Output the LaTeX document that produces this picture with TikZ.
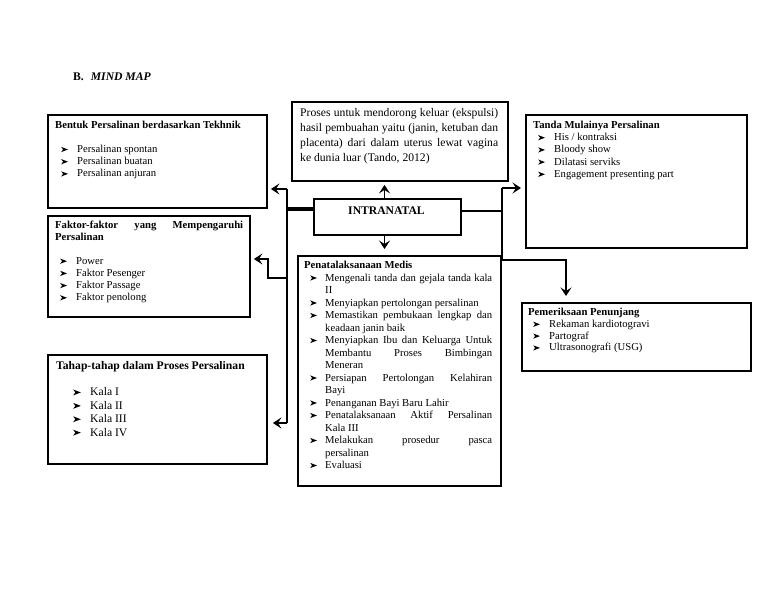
\documentclass[tikz,border=0pt]{standalone}
\usepackage{fontspec}
\setmainfont{Liberation Serif}
\usetikzlibrary{arrows.meta}
\hyphenpenalty=10000
\exhyphenpenalty=10000
\newdimen\bulind
\newdimen\txtind
\newcommand\fsmall{\fontsize{10.67pt}{12.2pt}\selectfont}
\newcommand\fbig{\fontsize{11.64pt}{13.4pt}\selectfont}
\def\bsc{1}
\newcommand\bul{\tikz[x=\bsc pt,y=\bsc pt,baseline=0pt]\fill (0,0.4) -- (6.8,3) -- (0,5.6) -- (1.9,3) -- cycle;}
\newcommand\itm[1]{\par\noindent\hangindent=\txtind\hangafter=1\hbox to\txtind{\hskip\bulind\bul\hfil}#1}
\begin{document}
\begin{tikzpicture}[x=1pt,y=-1pt,
  box/.style={draw, line width=1.9pt, inner sep=0pt, anchor=north west},
  txt/.style={anchor=base west, inner sep=0pt, align=justify, font=\fsmall, execute at begin node={\tolerance=10000}},
  conn/.style={line width=1.7pt},
  arr/.style={line width=1.7pt, -{Stealth[length=8.5pt,width=11pt,inset=3.5pt]}},
  thickl/.style={line width=3.4pt}]
\useasboundingbox (0,0) rectangle (768,594);
\fill[white] (0,0) rectangle (768,594);

% title
\node[anchor=base west, inner sep=0pt, font=\fbig\bfseries] (ttl) at (73,81) {B.\hspace{7pt}\textit{MIND MAP}};

% boxes
\node[box, minimum width=219pt, minimum height=93pt] (bentuk) at (47,114) {};
\node[box, minimum width=202pt, minimum height=101pt] (faktor) at (47,215) {};
\node[box, minimum width=219pt, minimum height=109pt] (tahap) at (47,354) {};
\node[box, minimum width=216pt, minimum height=79pt] (proses) at (291,101) {};
\node[box, minimum width=147pt, minimum height=36pt] (intra) at (313,198) {};
\node[box, minimum width=203pt, minimum height=230pt] (pena) at (297,255) {};
\node[box, minimum width=221pt, minimum height=133pt] (tanda) at (525,114) {};
\node[box, minimum width=229pt, minimum height=68pt] (pem) at (521,302) {};

% texts
\node[txt, text width=205pt] (bentukt) at (55,128.5) {{\bfseries Bentuk Persalinan berdasarkan Tekhnik\par}\vspace{11.8pt}\bulind=6pt\txtind=22pt
\itm{Persalinan spontan}\itm{Persalinan buatan}\itm{Persalinan anjuran}};

\node[txt, text width=188pt] (faktort) at (55,228) {{\bfseries Faktor-faktor yang Mempengaruhi\linebreak Persalinan\par}\vspace{11.8pt}\bulind=5pt\txtind=21pt
\itm{Power}\itm{Faktor Pesenger}\itm{Faktor Passage}\itm{Faktor penolong}};

\node[txt, text width=205pt, font=\fbig] (tahapt) at (56,369) {{\bfseries Tahap-tahap dalam Proses Persalinan\par}\vspace{13.4pt}\bulind=17pt\txtind=34pt\def\bsc{1.12}%
\itm{Kala I}\itm{Kala II}\itm{Kala III}\itm{Kala IV}};

\node[txt, text width=198pt, font=\fontsize{11.64pt}{15pt}\selectfont] (prosest) at (300,116) {Proses untuk mendorong keluar (ekspulsi)\linebreak hasil pembuahan yaitu (janin, ketuban dan\linebreak placenta) dari dalam uterus lewat vagina\linebreak ke dunia luar (Tando, 2012)};

\node[anchor=base, inner sep=0pt, font=\fbig\bfseries] (intrat) at (386.5,214) {INTRANATAL};

\node[txt, text width=188pt, font=\fontsize{10.67pt}{12.5pt}\selectfont] (penat) at (304,268.5) {{\bfseries Penatalaksanaan Medis\par}\bulind=6pt\txtind=21pt
\itm{Mengenali tanda dan gejala tanda kala\linebreak II}
\itm{Menyiapkan pertolongan persalinan}
\itm{Memastikan pembukaan lengkap dan\linebreak keadaan janin baik}
\itm{Menyiapkan Ibu dan Keluarga Untuk\linebreak Membantu Proses Bimbingan\linebreak Meneran}
\itm{Persiapan Pertolongan Kelahiran\linebreak Bayi}
\itm{Penanganan Bayi Baru Lahir}
\itm{Penatalaksanaan Aktif Persalinan\linebreak Kala III}
\itm{Melakukan prosedur pasca\linebreak persalinan}
\itm{Evaluasi}};

\node[txt, text width=205pt] (tandat) at (533,128.5) {{\bfseries Tanda Mulainya Persalinan\par}\bulind=5pt\txtind=21pt
\itm{His / kontraksi}\itm{Bloody show}\itm{Dilatasi serviks}\itm{Engagement presenting part}};

\node[txt, text width=205pt, font=\fontsize{10.67pt}{11.8pt}\selectfont] (pemt) at (528,315.5) {{\bfseries Pemeriksaan Penunjang\par}\bulind=5pt\txtind=21pt
\itm{Rekaman kardiotogravi}\itm{Partograf}\itm{Ultrasonografi (USG)}};

% left connectors
\coordinate (lj) at (287,209);
\coordinate (ltop) at (287,189);
\coordinate (lbot) at (287,423);
\coordinate (lf) at (287,278);
\coordinate (fk) at (268,259);
\draw[thickl] (intra.west |- lj) -- (lj);
\draw[conn] (ltop) -- (lbot);
\draw[arr, shorten >=3pt] (ltop) -- (ltop -| bentuk.east);
\draw[arr, shorten >=3pt] (lf) -| (fk) -- (fk -| faktor.east);
\draw[arr, shorten >=5pt] (lbot) -- (lbot -| tahap.east);

% vertical connectors
\coordinate (up) at (384.5,0);
\draw[arr, shorten >=3pt] (intra.north -| up) -- (up |- proses.south);
\draw[arr, shorten >=6pt] (intra.south -| up) -- (up |- pena.north);

% right connectors
\coordinate (rj) at (502,211);
\coordinate (rt2) at (502,198);
\coordinate (rtop) at (502,188);
\coordinate (rbot) at (502,260);
\path (pem.north west) ++(45,0) coordinate (pk);
\draw[conn] (intra.east |- rj) -- (rj);
\draw[conn] (rtop) -- (rbot);
\draw[line width=2.6pt] (rt2) -- (rj);
\draw[arr, shorten >=4pt] (rtop) -- (rtop -| tanda.west);
\draw[arr, shorten >=6pt] (rbot) -| (pk);
\end{tikzpicture}
\end{document}
